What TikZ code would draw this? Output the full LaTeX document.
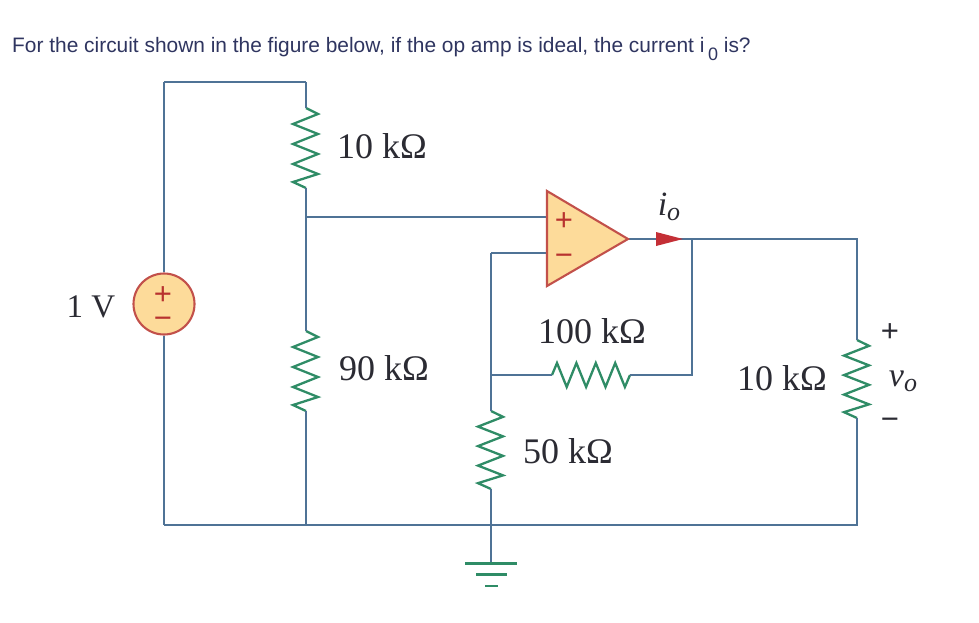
\documentclass[tikz,border=0pt]{standalone}
\usepackage{fontspec}
\setmainfont{Liberation Serif}
\newfontfamily\headfont{Liberation Sans}
\definecolor{wire}{HTML}{4F7396}
\definecolor{resgreen}{HTML}{2F8C66}
\definecolor{edgered}{HTML}{C2504A}
\definecolor{fillamp}{HTML}{FDDB9A}
\definecolor{signred}{HTML}{B8322F}
\definecolor{tiph}{HTML}{C42F36}
\definecolor{labelc}{HTML}{2B2B33}
\definecolor{headc}{HTML}{2F3560}
\tikzset{
  x=1pt,y=-1pt,
  wire/.style={draw=wire,line width=2.1pt,line join=miter},
  res/.style={draw=resgreen,line width=2.3pt,line join=miter},
  amp/.style={draw=edgered,fill=fillamp,line width=2.1pt,line join=miter},
  lab/.style={font=\fontsize{36}{36}\selectfont,text=labelc,anchor=base,inner sep=0pt},
  sym/.style={font=\fontsize{34}{34}\selectfont,text=labelc,anchor=base,inner sep=0pt},
  sign/.style={font=\headfont\fontsize{31}{31}\selectfont,text=signred,anchor=center,inner sep=0pt},
  gnd/.style={draw=resgreen,line width=2.4pt},
}
% vertical resistor: #1 name, #2 x, #3 y top, #4 total height
\newcommand{\vertres}[4]{%
  \coordinate (#1t) at (#2,#3);
  \coordinate (#1b) at (#2,#3+#4);
  \draw[res] (#1t) -- ++(12,0.075*#4) -- ++(-25,0.125*#4) -- ++(25,0.125*#4) -- ++(-25,0.125*#4)
     -- ++(25,0.125*#4) -- ++(-25,0.125*#4) -- ++(25,0.125*#4) -- ++(-25,0.1*#4) -- (#1b);
}
\begin{document}
\begin{tikzpicture}
\useasboundingbox (0,0) rectangle (979,622);
\fill[white] (0,0) rectangle (979,622);
% heading
\node[anchor=base west,inner sep=0pt,text=headc,font=\headfont\fontsize{20.9}{20.9}\selectfont] (head) at (12,52)
  {For the circuit shown in the figure below, if the op amp is ideal, the current i\,\raisebox{-8pt}{\fontsize{18}{18}\selectfont 0} is?};
% key points
\coordinate (tl) at (164,82);
\coordinate (tm) at (306,82);
\coordinate (bl) at (164,525);
\coordinate (bm) at (306,525);
\coordinate (bg) at (491,525);
\coordinate (br) at (857,525);
\coordinate (jp) at (306,217);
\coordinate (jn) at (491,253);
\coordinate (jf) at (491,375);
\coordinate (out) at (692,239);
\coordinate (outr) at (857,239);
\coordinate (fbr) at (692,375);
\coordinate (gt) at (491,563);
% resistors
\vertres{ra}{306}{108}{80}
\vertres{rb}{306}{331}{80}
\vertres{rc}{491}{411}{78}
\vertres{rd}{857}{340}{78}
% feedback resistor
\coordinate (rfl) at (552,375);
\coordinate (rfr) at (630,375);
\draw[res] (rfl) -- ++(5,-12) -- ++(9.7,24) -- ++(9.7,-24) -- ++(9.7,24) -- ++(9.7,-24) -- ++(9.7,24) -- ++(9.7,-24) -- ++(9.7,24) -- (rfr);
% wires
\draw[wire] (bl) -- (br) -- (rdb);
\draw[wire] (rdt) -- (outr) -- (out);
\draw[wire] (tm) -- (rat);
\draw[wire] (rab) -- (rbt);
\draw[wire] (rbb) -- (bm);
\draw[wire] (tm) -- (tl);
\draw[wire] (bg) -- (rcb);
\draw[wire] (out) -- (fbr) -- (rfr);
\draw[wire] (rfl) -- (jf);
\draw[wire] (jn) -- (rct);
\draw[wire] (rcb) -- (gt);
% source
\node[circle,amp,minimum size=61pt,inner sep=0pt] (src) at (164,304) {};
\draw[wire] (tl) -- (src.north);
\draw[wire] (src.south) -- (bl);
\node[sign] (sp) at (163,296) {+};
\node[sign] (sm) at (163,323) {−};
% op amp
\coordinate (oa) at (547,191);
\coordinate (ob) at (547,286);
\coordinate (oc) at (628,239);
\draw[wire] (jp) -- (oa |- jp);
\draw[wire] (jn) -- (oa |- jn);
\draw[wire] (oc) -- (out);
\draw[amp] (oa) -- (oc) -- (ob) -- cycle;
\node[sign] (ap) at (564,222) {+};
\node[sign] (am) at (564,260) {−};
% current arrow
\coordinate (ar1) at (656,239);
\coordinate (ar2) at (683,239);
\fill[tiph] (656,232) -- (ar2) -- (656,246) -- cycle;
% ground
\draw[gnd] (465,563.5) -- (517,563.5);
\draw[gnd] (476,574.5) -- (507,574.5);
\draw[gnd] (485,586) -- (498,586);
% labels
\node[lab] (l1) at (382,158) {10 kΩ};
\node[lab] (l2) at (384,380) {90 kΩ};
\node[lab] (l3) at (592,343) {100 kΩ};
\node[lab] (l4) at (568,463) {50 kΩ};
\node[lab] (l5) at (782,390) {10 kΩ};
\node[lab,font=\fontsize{33}{33}\selectfont] (l6) at (91,317) {1 V};
\node[sym] (io) at (669,215) {\itshape i\raisebox{-5pt}{\fontsize{26}{26}\selectfont o}};
\node[sym] (vo) at (903,386) {\itshape v\raisebox{-5pt}{\fontsize{26}{26}\selectfont o}};
\node[sign,text=labelc] (vp) at (890,333) {+};
\node[sign,text=labelc] (vm) at (890,424) {−};
\end{tikzpicture}
\end{document}
